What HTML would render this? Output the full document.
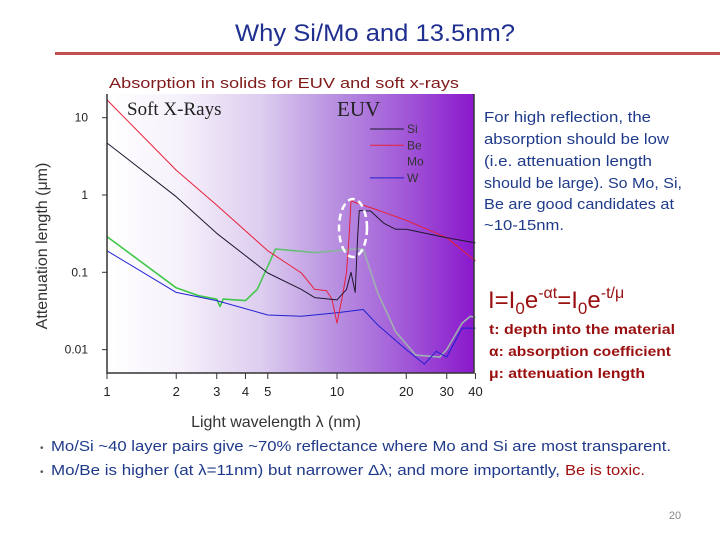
<!DOCTYPE html>
<html><head><meta charset="utf-8"><style>
body{margin:0;background:#fff}
svg{display:block;font-family:"Liberation Sans",sans-serif}
</style></head><body>
<svg id="s" width="720" height="540" viewBox="0 0 720 540">
<defs>
<linearGradient id="bg" x1="0" x2="1" y1="0" y2="0">
<stop offset="0" stop-color="#ffffff"/><stop offset="0.2" stop-color="#f6f1fb"/><stop offset="0.42" stop-color="#ddcdef"/><stop offset="0.62" stop-color="#b890e0"/><stop offset="0.8" stop-color="#a35cd8"/><stop offset="1" stop-color="#8a18cc"/>
</linearGradient>
<linearGradient id="mog" gradientUnits="userSpaceOnUse" x1="250" x2="360" y1="0" y2="0">
<stop offset="0" stop-color="#3ec84a"/><stop offset="1" stop-color="#9fb0b0"/>
</linearGradient>
</defs>
<text x="235" y="41" font-size="24" fill="#1f2f8f" textLength="280" lengthAdjust="spacingAndGlyphs">Why Si/Mo and 13.5nm?</text>
<rect x="55" y="52" width="665" height="3" fill="#c0504d"/>
<text x="109" y="88" font-size="15" fill="#7f1a1a" textLength="350" lengthAdjust="spacingAndGlyphs">Absorption in solids for EUV and soft x-rays</text>
<g id="plot">
<rect x="107" y="94" width="367" height="279" fill="url(#bg)"/>
</g>
<g font-size="15" fill="#1f3a8a">
<text x="484" y="122" textLength="167" lengthAdjust="spacingAndGlyphs">For high reflection, the</text>
<text x="484" y="144" textLength="185" lengthAdjust="spacingAndGlyphs">absorption should be low</text>
<text x="484" y="166" textLength="168" lengthAdjust="spacingAndGlyphs">(i.e. attenuation length</text>
<text x="484" y="188" textLength="198" lengthAdjust="spacingAndGlyphs">should be large). So Mo, Si,</text>
<text x="484" y="209" textLength="190" lengthAdjust="spacingAndGlyphs">Be are good candidates at</text>
<text x="484" y="230" textLength="80" lengthAdjust="spacingAndGlyphs">~10-15nm.</text>
</g>
<text x="488" y="308" font-size="24" fill="#9a1010">I=I<tspan font-size="17" dy="6">0</tspan><tspan dy="-6">e</tspan><tspan font-size="16" dy="-10">-αt</tspan><tspan dy="10">=I</tspan><tspan font-size="17" dy="6">0</tspan><tspan dy="-6">e</tspan><tspan font-size="16" dy="-10">-t/μ</tspan></text>
<g font-size="14" fill="#9a1010" font-weight="bold">
<text x="489" y="334" textLength="186" lengthAdjust="spacingAndGlyphs">t: depth into the material</text>
<text x="489" y="356" textLength="182" lengthAdjust="spacingAndGlyphs">α: absorption coefficient</text>
<text x="489" y="378" textLength="156" lengthAdjust="spacingAndGlyphs">μ: attenuation length</text>
</g>
<g font-size="15" fill="#1f3a8a">
<text x="40" y="451" font-size="10" fill="#555">•</text>
<text x="51" y="451" textLength="620" lengthAdjust="spacingAndGlyphs">Mo/Si  ~40 layer pairs give ~70% reflectance where Mo and Si are most transparent.</text>
<text x="40" y="475" font-size="10" fill="#555">•</text>
<text x="51" y="475" textLength="509" lengthAdjust="spacingAndGlyphs">Mo/Be is higher (at λ=11nm) but narrower Δλ; and more importantly,</text>
<text x="565" y="475" fill="#a01010" textLength="80" lengthAdjust="spacingAndGlyphs">Be is toxic.</text>
</g>
<text x="675" y="519" font-size="11" fill="#888" text-anchor="middle">20</text>
</svg>
<script>
const xTicks=[1,2,3,4,5,10,20,30,40];
const yTicks=[10,1,0.1,0.01];
const yTickLabels=["10","1","0.1","0.01"];
const siX=[1,2,3,5,7,8,10,11,11.5,12,12.3,12.5,14,16,18,20,30,40];
const siY=[4.7,0.95,0.32,0.098,0.06,0.047,0.044,0.06,0.1,0.055,0.3,0.63,0.62,0.43,0.36,0.36,0.28,0.24];
const beX=[1,2,3,5,7,8,9,9.5,10,10.5,11,11.3,11.5,12,15,20,30,40];
const beY=[17,2.1,0.74,0.19,0.098,0.06,0.058,0.045,0.022,0.045,0.1,0.3,0.85,0.8,0.64,0.47,0.28,0.14];
const moX=[1,2,2.5,3,3.1,3.2,4,4.5,5,5.4,8,12,13,15,18,22,28,30,35,38,40];
const moY=[0.29,0.063,0.05,0.045,0.036,0.045,0.043,0.06,0.12,0.2,0.18,0.2,0.2,0.055,0.017,0.0085,0.008,0.01,0.022,0.027,0.026];
const wX=[1,2,3,5,7,10,13,15,20,24,27,30,35,40];
const wY=[0.19,0.055,0.043,0.028,0.027,0.03,0.033,0.021,0.01,0.0065,0.0095,0.008,0.019,0.019];
const NS="http://www.w3.org/2000/svg";
const svg=document.getElementById('s');
const X0=107,XW=230,YR=195,YD=77.3;
const xs=v=>X0+Math.log10(v)*XW;
const ys=v=>YR-Math.log10(v)*YD;
function mk(tag,attrs,parent){const e=document.createElementNS(NS,tag);for(const k in attrs)e.setAttribute(k,attrs[k]);(parent||svg).appendChild(e);return e;}
const g=mk('g',{});


function series(X,Y,color,w,name){
  const d=X.map((x,i)=>(i?'L':'M')+xs(x).toFixed(1)+' '+ys(Y[i]).toFixed(1)).join(' ');
  const p=mk('path',{d:d,fill:'none',stroke:color,'stroke-width':w,'stroke-linejoin':'round'},g);
  
  
}
series(moX,moY,'url(#mog)',1.6,'series-mo');
series(wX,wY,'#2020d0',1,'series-w');
series(beX,beY,'#e8203a',1,'series-be');
series(siX,siY,'#201830',1,'series-si');
const ax=mk('path',{d:'M107 94 L107 373 L474 373 L474 94',fill:'none',stroke:'#333','stroke-width':1.5},g);


xTicks.forEach(t=>{
  const x=xs(t);
  const l=mk('line',{x1:x,x2:x,y1:373,y2:379,stroke:'#333'},g);
  
  
  const tx=mk('text',{x:x,y:396,'text-anchor':'middle','font-size':13,fill:'#222'},g);
  tx.textContent=String(t);
  
  
});
yTicks.forEach((t,i)=>{
  const y=ys(t);
  const l=mk('line',{x1:102,x2:107,y1:y,y2:y,stroke:'#333'},g);
  
  
  const tx=mk('text',{x:88,y:y+4,'text-anchor':'end','font-size':12,fill:'#222'},g);
  tx.textContent=yTickLabels[i];
  
  
});
const xl=mk('text',{x:276,y:427,'text-anchor':'middle','font-size':16,fill:'#333'},g);
xl.textContent='Light wavelength λ (nm)';


const yl=mk('text',{x:0,y:0,'text-anchor':'middle','font-size':16,fill:'#333',transform:'translate(47,246) rotate(-90)'},g);
yl.textContent='Attenuation length (μm)';


const t1=mk('text',{x:127,y:115,'font-size':19,fill:'#222','font-family':'Liberation Serif'},g);
t1.textContent='Soft X-Rays';


const t2=mk('text',{x:337,y:116,'font-size':21,fill:'#222','font-family':'Liberation Serif'},g);
t2.textContent='EUV';


const legNames=['Si','Be','Mo','W'];
const legColors=['#201830','#e8203a','none','#2020d0'];
legNames.forEach((n,i)=>{
  const y=129+i*16.3;
  if(legColors[i]!=='none'){
    const l=mk('line',{x1:370,x2:404,y1:y,y2:y,stroke:legColors[i]},g);
    
    
  }
  const tx=mk('text',{x:407,y:y+4,'font-size':12,fill:'#333'},g);
  tx.textContent=n;
  
  
});
const el=mk('ellipse',{cx:353,cy:228,rx:14,ry:29,fill:'none',stroke:'#fff','stroke-width':2.5,'stroke-dasharray':'7 4'},g);


</script>
</body></html>
